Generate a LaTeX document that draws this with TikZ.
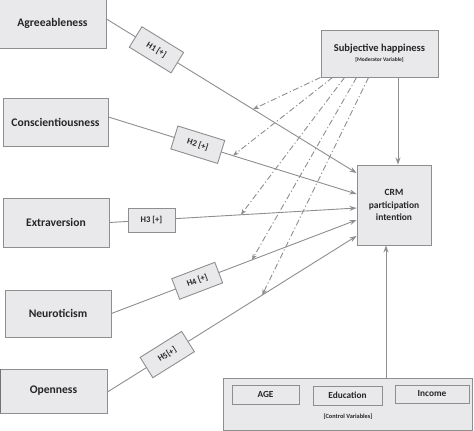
\documentclass[tikz,border=0pt]{standalone}
\usepackage{fontspec}
\setmainfont{Carlito}
\usetikzlibrary{arrows.meta,calc}
\definecolor{boxfill}{HTML}{E9E9EB}
\definecolor{boxline}{HTML}{8E8E8E}
\definecolor{txt}{HTML}{262626}
\tikzset{
  box/.style={draw=boxline, fill=boxfill, line width=0.9pt, inner sep=0pt, text=txt, font=\bfseries, align=center},
  trait/.style={box, font=\fontsize{11.6}{13}\selectfont\bfseries},
  hyp/.style={box, minimum width=49pt, minimum height=24pt, font=\fontsize{8.6}{9}\selectfont\bfseries},
  ctrlitem/.style={box, line width=0.8pt, minimum height=19pt, font=\fontsize{9.3}{10}\selectfont\bfseries},
  arr/.style={draw=boxline, line width=0.9pt, -{Stealth[length=7pt,width=5pt]}},
  modarr/.style={draw=boxline, line width=0.9pt, dash pattern=on 6pt off 2.5pt on 1.2pt off 2.5pt, -{Stealth[length=6pt,width=4.5pt]}}
}
\begin{document}
\begin{tikzpicture}[x=1pt,y=-1pt]
\useasboundingbox (0,0) rectangle (474,431);
% trait boxes
\node[trait, minimum width=107pt, minimum height=49pt] (agree) at (52.5,23.5) {Agreeableness};
\node[trait, minimum width=105pt, minimum height=48pt] (consc) at (55.5,122) {Conscientiousness};
\node[trait, minimum width=106pt, minimum height=49pt] (extra) at (56,222.5) {Extraversion};
\node[trait, minimum width=106pt, minimum height=47pt] (neuro) at (58,313.5) {Neuroticism};
\node[trait, minimum width=107pt, minimum height=44pt] (open) at (53.5,391) {Openness};
\draw[draw=boxline!80!black, line width=2pt] (open.north west) -- (open.south west);
% moderator
\node[box, minimum width=117pt, minimum height=47pt] (sh) at (379.5,53.5)
  {{\fontsize{10.5}{12}\selectfont Subjective happiness}\\[-2pt]{\fontsize{5.5}{6}\selectfont [Moderator Variable]}};
% outcome
\node[box, minimum width=74pt, minimum height=80pt, font=\fontsize{9.5}{12.5}\selectfont\bfseries] (crm) at (394,205)
  {CRM\\participation\\intention};
% controls
\node[box, minimum width=249pt, minimum height=52pt] (ctrl) at (347.5,404) {};
\node[ctrlitem, minimum width=67pt] (age) at (265.5,394.5) {AGE};
\node[ctrlitem, minimum width=69pt] (edu) at (347.5,395.5) {Education};
\node[ctrlitem, minimum width=74pt, minimum height=18pt] (inc) at (432,394) {Income};
\node[text=txt, font=\fontsize{6.3}{7}\selectfont\bfseries, inner sep=0pt] (ctrllab) at (348,417) {[Control Variables]};
% end points on the outcome box
\coordinate (e1) at (crm.west |- 0,173);
\coordinate (e2) at (crm.west |- 0,194);
\coordinate (e3) at (crm.west |- 0,208);
\coordinate (e4) at (crm.west |- 0,220);
\coordinate (e5) at (crm.west |- 0,236);
% hypothesis paths
\draw[arr] ([yshift=4.5pt]agree.east) -- coordinate[pos=0.586] (m1) node[hyp, sloped, pos=0.20] (h1) {H1 [+]} (e1);
\draw[arr] ([yshift=5pt]consc.east) -- coordinate[pos=0.502] (m2) node[hyp, sloped, pos=0.36] (h2) {H2 [+]} (e2);
\draw[arr] (extra.east) -- coordinate[pos=0.532] (m3) node[hyp, minimum width=47pt, pos=0.17] (h3) {H3 [+]} (e3);
\draw[arr] (neuro.east) -- coordinate[pos=0.573] (m4) node[hyp, sloped, minimum width=46pt, minimum height=22pt, pos=0.35] (h4) {H4 [+]} (e4);
\draw[arr] ([yshift=-1pt]open.east) -- coordinate[pos=0.621] (m5) node[hyp, sloped, pos=0.24] (h5) {H5[+]} (e5);
% moderating paths
\draw[modarr] (sh.south west) -- (m1);
\draw[modarr] ([xshift=12pt]sh.south west) -- (m2);
\draw[modarr] ([xshift=24pt]sh.south west) -- (m3);
\draw[modarr] ([xshift=36pt]sh.south west) -- (m4);
\draw[modarr] ([xshift=48pt]sh.south west) -- (m5);
% direct arrows
\draw[arr] ([xshift=18.5pt]sh.south) -- ([xshift=4pt]crm.north);
\draw[arr] ([xshift=38.5pt]ctrl.north) -- ([xshift=-8pt]crm.south);
\end{tikzpicture}
\end{document}
